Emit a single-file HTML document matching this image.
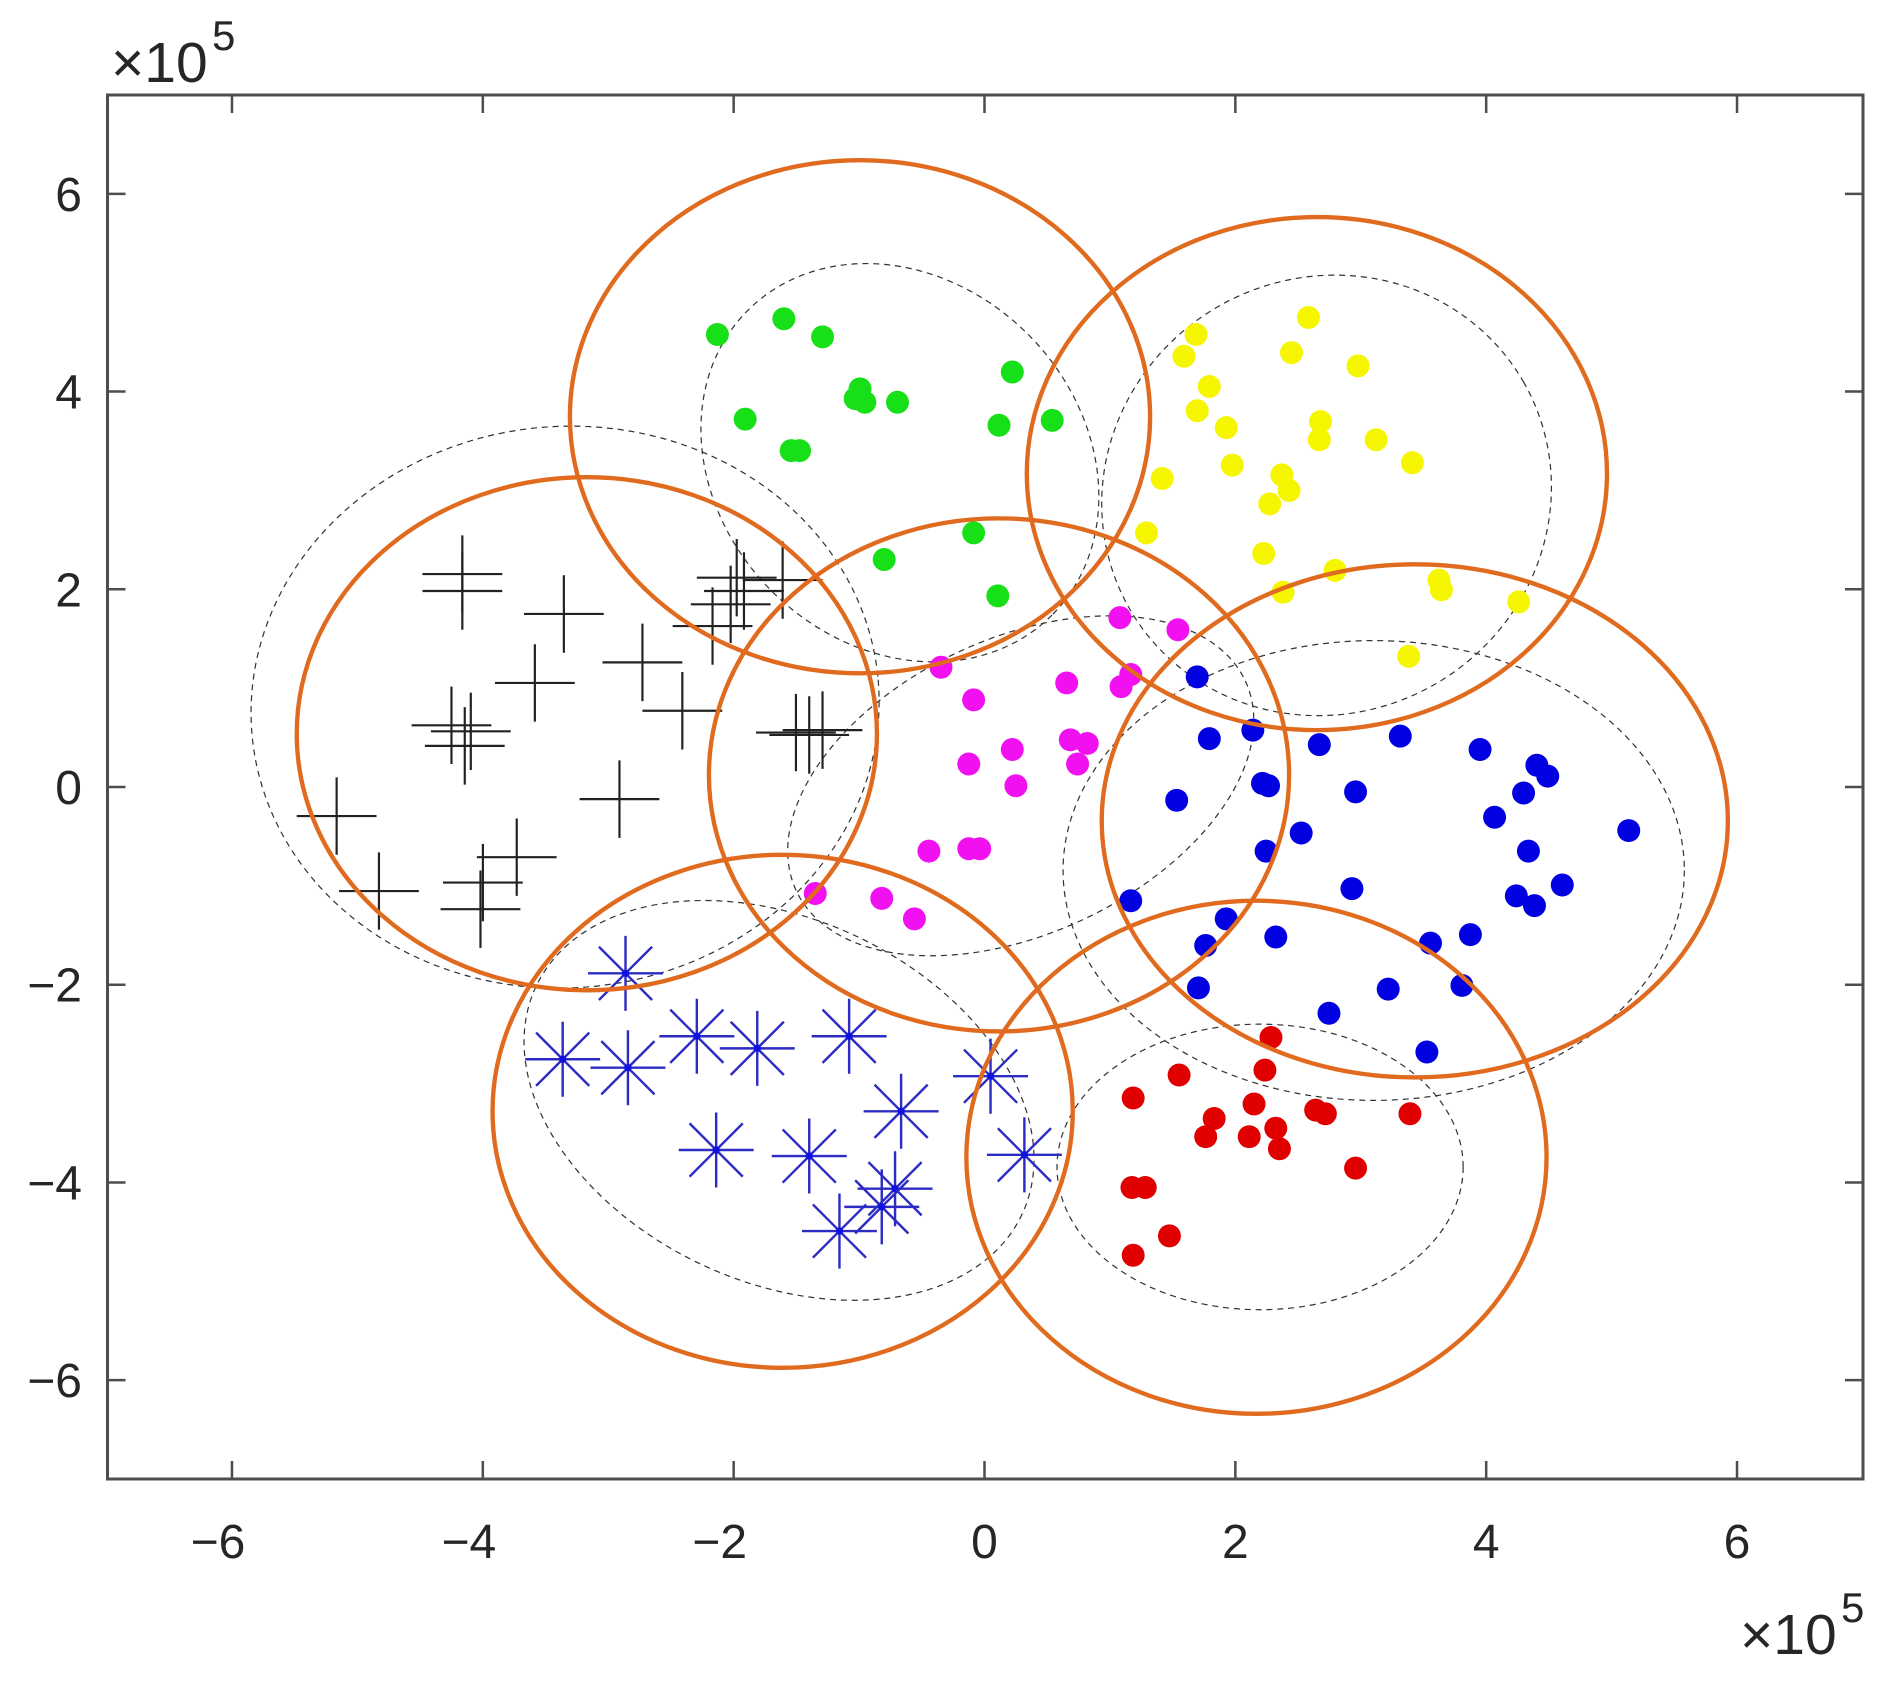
<!DOCTYPE html>
<html><head><meta charset="utf-8"><style>
html,body{margin:0;padding:0;background:#fff;}
svg{display:block;}
text{font-family:"Liberation Sans",Arial,sans-serif;fill:#262626;}
</style></head><body>
<svg id="s" width="1895" height="1685" viewBox="0 0 1895 1685" xmlns="http://www.w3.org/2000/svg">
<rect x="0" y="0" width="1895" height="1685" fill="#fff"/>
<g id="plot" transform="translate(984.5,787) scale(1.2087,1.21) translate(-815,-651)"></g>
<rect x="107.5" y="95" width="1755.5" height="1384" fill="none" stroke="#4d4d4d" stroke-width="3"/>
<g id="ticks" stroke="#4d4d4d" stroke-width="2.5"></g>
<g id="labels" font-size="48"></g>
<text x="111" y="82" font-size="57">×10</text><text x="212" y="50" font-size="42">5</text>
<text x="1740" y="1654" font-size="57">×10</text><text x="1841" y="1622" font-size="42">5</text>
</svg>
<script>
const NS="http://www.w3.org/2000/svg";
const P=document.getElementById('plot');
function el(t,a,p){const e=document.createElementNS(NS,t);for(const k in a)e.setAttribute(k,a[k]);(p||P).appendChild(e);return e;}
[[745,383,178,150,45],[1098,410,188,180,-30],[468,585,260,232,-5],[845,650,205,122,-25],[1137,720,257,190,0],[645,910,222,150,25],[1043,965,168,118,0]].forEach(d=>{
el('ellipse',{cx:d[0],cy:d[1],rx:d[2],ry:d[3],transform:`rotate(${d[4]} ${d[0]} ${d[1]})`,fill:'none',stroke:'#333','stroke-width':1,'stroke-dasharray':'5 4'});});
function dots(arr,c){arr.forEach(p=>el('circle',{cx:p[0],cy:p[1],r:9.5,fill:c}));}
dots([[594,277],[649,264],[681,279],[617,347],[655,373],[662,373],[708,330],[712,322],[716,333],[743,333],[838,308],[827,352],[871,348],[806,441],[732,463],[826,493]],'#18e018');
dots([[990,277],[980,295],[1001,320],[991,340],[1083,263],[1069,292],[1124,303],[1015,354],[1093,349],[1092,364],[1139,364],[1169,383],[1020,385],[962,396],[1061,393],[1067,406],[1051,417],[949,441],[1046,458],[1105,472],[1062,490],[1191,480],[1193,488],[1257,498],[1166,543]],'#f6f600');
dots([[927,511],[975,521],[779,552],[936,558],[928,568],[883,565],[806,579],[886,612],[900,615],[838,620],[892,632],[802,632],[841,650],[769,704],[802,702],[811,702],[675,739],[730,743],[757,760]],'#f010f0');
dots([[991,560],[1001,611],[1037,604],[1092,616],[1159,609],[1225,620],[1272,633],[1281,642],[1045,648],[1050,650],[1122,655],[1261,656],[974,662],[1237,676],[1348,687],[1077,689],[1048,704],[1265,704],[1293,732],[1119,735],[1255,741],[1270,749],[936,745],[1015,760],[1056,775],[1217,773],[1184,780],[998,782],[992,817],[1149,818],[1210,815],[1100,838],[1181,870]],'#0000e0');
dots([[1052,858],[976,889],[1047,885],[938,908],[1038,913],[1005,925],[1089,918],[1097,921],[998,940],[1034,940],[1056,933],[1059,950],[1167,921],[1122,966],[937,982],[948,982],[968,1022],[938,1038]],'#e00000');
[[383,475],[383,489],[467,508],[443,565],[532,548],[565,588],[610,478],[648,480],[590,518],[605,500],[374,600],[390,605],[385,617],[681,604],[659,606],[670,608],[513,661],[279,675],[314,737],[428,709],[400,730],[398,752],[616,489]].forEach(p=>{
el('path',{d:`M${p[0]-33} ${p[1]}H${p[0]+33}M${p[0]} ${p[1]-32}V${p[1]+32}`,stroke:'#222','stroke-width':1.8,fill:'none'});});
[[518,805],[466,876],[520,883],[577,857],[627,867],[703,857],[746,919],[820,890],[593,951],[670,956],[848,955],[741,983],[730,998],[695,1018]].forEach(p=>{
const x=p[0],y=p[1],r=31,d=22;
el('path',{d:`M${x-r} ${y}H${x+r}M${x} ${y-r}V${y+r}M${x-d} ${y-d}L${x+d} ${y+d}M${x-d} ${y+d}L${x+d} ${y-d}`,stroke:'#2c2cc4','stroke-width':2,fill:'none'});
el('circle',{cx:x,cy:y,r:3,fill:'#1010e0'});});
[[712,345,240,212],[1090,392,240,212],[486,607,240,212],[827,641,240,212],[1171,679,259,212],[648,919,240,212],[1040,957,240,212]].forEach(d=>{
el('ellipse',{cx:d[0],cy:d[1],rx:d[2],ry:d[3],fill:'none',stroke:'#e06a1e','stroke-width':3.6});});
const T=document.getElementById('ticks'),L=document.getElementById('labels');
for(let v=-6;v<=6;v+=2){
 const x=984.5+v*125.42; const y=787-v*98.86;
 el('path',{d:`M${x} 1479V1461M${x} 95V113`},T);
 el('path',{d:`M107.5 ${y}H125.5M1863 ${y}H1845`},T);
 const s=(v<0?'−':'')+Math.abs(v);
 const tx=el('text',{x:x-(v<0?14:0),y:1558,'text-anchor':'middle'},L);tx.textContent=s;
 const ty=el('text',{x:82,y:y+17,'text-anchor':'end'},L);ty.textContent=s;
}
</script>
</body></html>
